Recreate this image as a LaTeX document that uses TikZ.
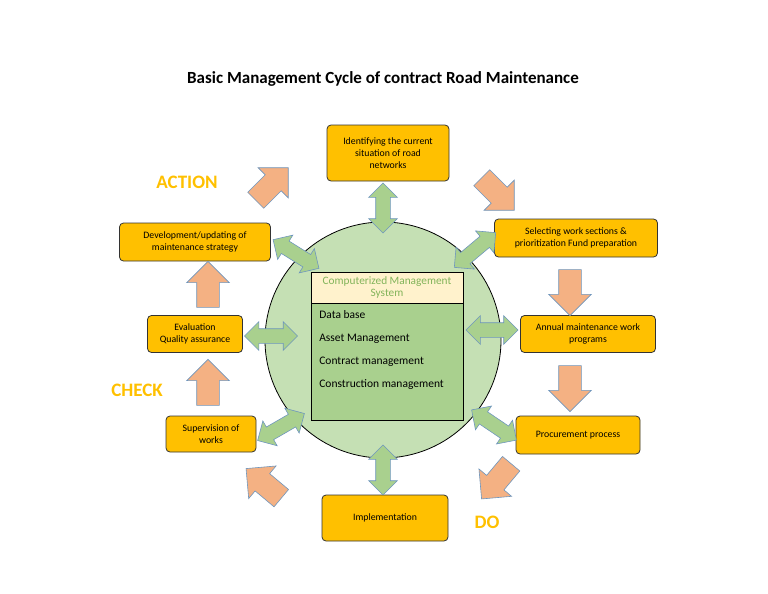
\documentclass[tikz,border=0pt]{standalone}
\usepackage{fontspec}
\setmainfont{Carlito}
\usetikzlibrary{shapes.arrows}
\begin{document}
\begin{tikzpicture}[x=1pt,y=-1pt,
 box/.style={draw=black!80,fill={rgb,255:red,255;green,192;blue,0},rounded corners=4pt,line width=0.8pt,align=center,font=\fontsize{9.8}{12}\selectfont,inner sep=1pt},
 garr/.style={double arrow,draw={rgb,255:red,110;green,150;blue,190},fill={rgb,255:red,169;green,208;blue,142},double arrow head extend=7pt,inner sep=7pt,line width=0.6pt},
 oarr/.style={single arrow,draw={rgb,255:red,110;green,150;blue,190},fill={rgb,255:red,244;green,177;blue,131},single arrow head extend=10pt,inner sep=11pt,line width=0.6pt,minimum height=46pt},
 lab/.style={font=\bfseries\fontsize{19}{20}\selectfont,text={rgb,255:red,255;green,192;blue,0}}]
\useasboundingbox (0,0) rectangle (768,594);
\node[font=\bfseries\fontsize{17}{19}\selectfont] (title) at (383,79) {Basic Management Cycle of contract Road Maintenance};
\node[circle,draw=black,line width=0.8pt,fill={rgb,255:red,197;green,224;blue,180},minimum size=236pt] (c) at (383,340) {};
\node[draw=black,fill={rgb,255:red,255;green,242;blue,204},minimum width=152pt,minimum height=31pt,anchor=north,align=center,text={rgb,255:red,130;green,180;blue,90},font=\fontsize{11.3}{12}\selectfont,inner sep=0pt] (h) at (387,272) {Computerized Management\\System};
\node[draw=black,fill={rgb,255:red,169;green,208;blue,142},minimum width=152pt,minimum height=117pt,anchor=north,inner sep=0pt] (b) at (h.south) {};
\node[anchor=north west,align=left,font=\fontsize{11.5}{23}\selectfont] (list) at ([xshift=5pt,yshift=-4pt]b.north west) {Data base\\Asset Management\\Contract management\\Construction management};
\node[box,minimum width=122pt,minimum height=56pt] (n1) at (388,153) {Identifying the current\\situation of road\\networks};
\node[box,minimum width=163pt,minimum height=38pt] (n2) at (576,238) {Selecting work sections \&\\prioritization Fund preparation};
\node[box,minimum width=135pt,minimum height=37pt] (n3) at (588,334) {Annual maintenance work\\programs};
\node[box,minimum width=124pt,minimum height=38pt] (n4) at (578,435) {Procurement process};
\node[box,minimum width=126pt,minimum height=46pt] (n5) at (385,518) {Implementation};
\node[box,minimum width=90pt,minimum height=36pt] (n6) at (211,434) {Supervision of\\works};
\node[box,minimum width=95pt,minimum height=37pt] (n7) at (195,334) {Evaluation\\Quality assurance};
\node[box,minimum width=151pt,minimum height=38pt] (n8) at (195,242) {Development/updating of\\maintenance strategy};
% green double arrows
\node[garr,minimum height=50pt,rotate=90] (g1) at (383,208) {};
\node[garr,minimum height=54pt,rotate=-32] (g2) at (296,254) {};
\node[garr,minimum height=54pt,rotate=40] (g3) at (475,250) {};
\node[garr,minimum height=52pt] (g4) at (492,330) {};
\node[garr,minimum height=54pt,rotate=-34] (g5) at (494,425) {};
\node[garr,minimum height=50pt,rotate=90] (g6) at (383,470) {};
\node[garr,minimum height=54pt,rotate=30] (g7) at (281,427) {};
\node[garr,minimum height=53pt] (g8) at (271,336) {};
% orange arrows
\node[oarr,rotate=45] (o1) at (268,188) {};
\node[oarr,rotate=-45] (o2) at (494,190) {};
\node[oarr,rotate=-90] (o3) at (570,287) {};
\node[oarr,rotate=-90] (o4) at (570,383) {};
\node[oarr,rotate=-130] (o5) at (500,477) {};
\node[oarr,rotate=140] (o6) at (268,487) {};
\node[oarr,rotate=90] (o7) at (208,388) {};
\node[oarr,rotate=90] (o8) at (208,290) {};
\node[lab] (l1) at (187,182) {ACTION};
\node[lab] (l2) at (137,390) {CHECK};
\node[lab] (l3) at (487,522) {DO};
\end{tikzpicture}
\end{document}
